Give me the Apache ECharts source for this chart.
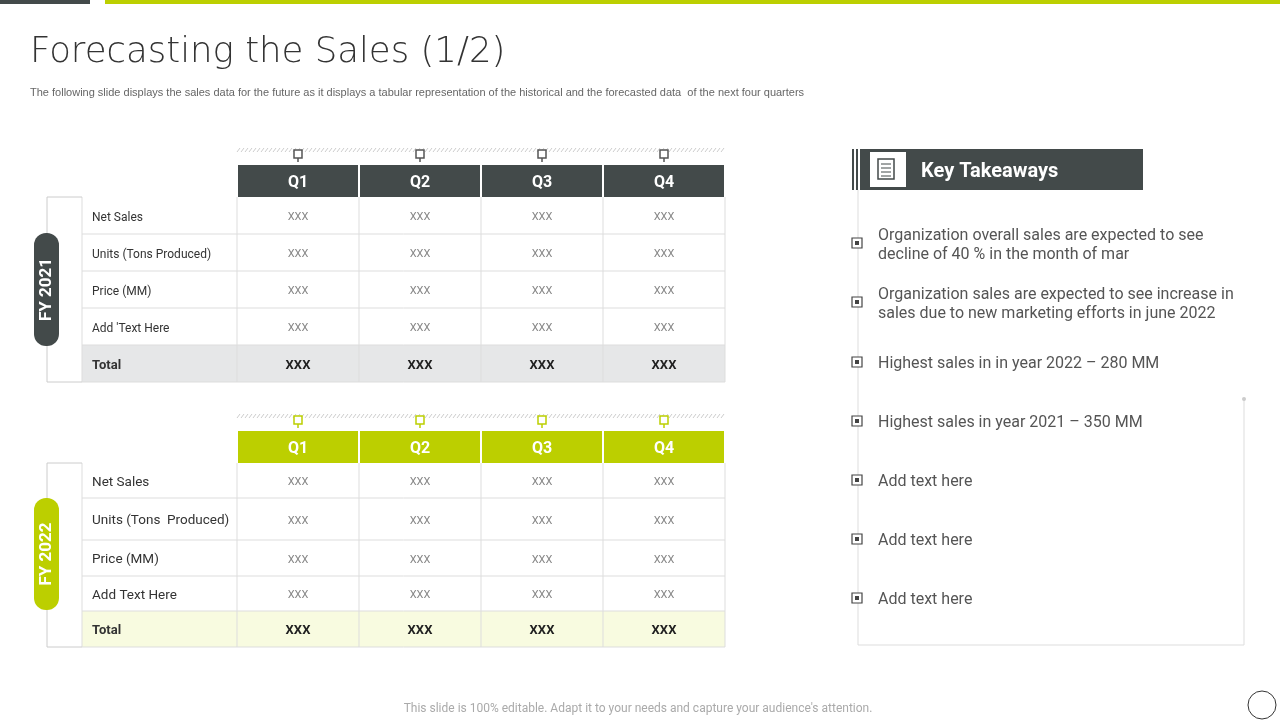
<!DOCTYPE html><html><head><meta charset="utf-8">
<script src="https://cdn.jsdelivr.net/npm/echarts@6/dist/echarts.min.js"></script>
<style>html,body{margin:0;padding:0;background:#fff}#c{width:1280px;height:720px}</style></head><body><div id="c"></div>
<script>
const title = "Forecasting the Sales (1/2)";
const subtitle = "The following slide displays the sales data for the future as it displays a tabular representation of the historical and the forecasted data  of the next four quarters";
const quarters = ["Q1","Q2","Q3","Q4"];
const rows2021 = ["Net Sales","Units (Tons Produced)","Price (MM)","Add 'Text Here","Total"];
const rows2022 = ["Net Sales","Units (Tons  Produced)","Price (MM)","Add Text Here","Total"];
const cellValue = "XXX";
const takeaways = ["Organization overall sales are expected to see\ndecline of 40 % in the month of mar","Organization sales are expected to see increase in\nsales due to new marketing efforts in june 2022","Highest sales in in year 2022 – 280 MM","Highest sales in year 2021 – 350 MM","Add text here","Add text here","Add text here"];
const footer = "This slide is 100% editable. Adapt it to your needs and capture your audience's attention.";

const F = "Roboto, 'Liberation Sans', sans-serif";
const dark = "#434a4a", green = "#bccf00";
const g = [];
const D = 2;
g.push({type:'rect',shape:{x:0,y:0,width:90,height:4},style:{fill:dark}});
g.push({type:'rect',shape:{x:105,y:0,width:1175,height:4},style:{fill:green}});
g.push({type:'text',x:30,y:53,style:{text:title,font:"300 35.5px 'DejaVu Sans', "+F,fill:"#333",textVerticalAlign:'middle'}});
g.push({type:'text',x:30,y:93,style:{text:subtitle,font:"11px 'Liberation Sans', sans-serif",fill:"#666",textVerticalAlign:'middle'}});

const colX = [237,359,481,603,725];
function table(y0, headCol, rowYs, rows, totalBg, pillCol, pillY, label, rowFont, iconCol){
  for(let x=237;x<725;x+=4) g.push({type:'line',shape:{x1:x,y1:y0-13,x2:x+3,y2:y0-17},style:{stroke:'#ccc',lineWidth:1}});
  for(let i=0;i<4;i++){
    const cx=(colX[i]+colX[i+1])/2;
    g.push({type:'rect',shape:{x:cx-4,y:y0-15,width:8,height:8},style:{fill:'#fff',stroke:iconCol,lineWidth:1.5}});
    g.push({type:'line',shape:{x1:cx,y1:y0-7,x2:cx,y2:y0-3},style:{stroke:iconCol,lineWidth:1.5}});
    g.push({type:'rect',shape:{x:colX[i]+1,y:y0,width:colX[i+1]-colX[i]-2,height:rowYs[0]-y0},style:{fill:headCol}});
    g.push({type:'text',x:cx,y:(y0+rowYs[0])/2+D,style:{text:quarters[i],font:"bold 16px "+F,fill:'#fff',textAlign:'center',textVerticalAlign:'middle'}});
  }
  const last = rowYs.length-1;
  g.push({type:'rect',shape:{x:82,y:rowYs[last-1],width:643,height:rowYs[last]-rowYs[last-1]},style:{fill:totalBg}});
  for(let r=0;r<rows.length;r++){
    const ya=rowYs[r], yb=rowYs[r+1], cy=(ya+yb)/2+D, tot=r===rows.length-1;
    g.push({type:'text',x:92,y:cy,style:{text:rows[r],font:(tot?"bold 13px ":rowFont)+F,fill:'#333',textVerticalAlign:'middle'}});
    for(let i=0;i<4;i++) g.push({type:'text',x:(colX[i]+colX[i+1])/2,y:cy,style:{text:cellValue,font:(tot?"bold 13px ":"11px ")+F,fill:tot?'#222':'#888',textAlign:'center',textVerticalAlign:'middle'}});
    g.push({type:'line',shape:{x1:82,y1:yb,x2:725,y2:yb},style:{stroke:'#ddd'}});
  }
  for(const x of [82,...colX]) g.push({type:'line',shape:{x1:x,y1:rowYs[0],x2:x,y2:rowYs[last]},style:{stroke:'#ddd'}});
  g.push({type:'polyline',shape:{points:[[82,rowYs[0]],[47,rowYs[0]],[47,rowYs[last]],[82,rowYs[last]]]},style:{stroke:'#ccc',fill:null}});
  g.push({type:'rect',shape:{x:34,y:pillY[0],width:25,height:pillY[1]-pillY[0],r:12},style:{fill:pillCol}});
  g.push({type:'text',x:46.5,y:(pillY[0]+pillY[1])/2,rotation:Math.PI/2,style:{text:label,font:"bold 17px "+F,fill:'#fff',textAlign:'center',textVerticalAlign:'middle'}});
}
table(165,dark,[197,234,271,308,345,382],rows2021,'#e6e7e8',dark,[233,346],"FY 2021","12px ",'#555');
table(431,green,[463,498,540,576,611,647],rows2022,'#f8fbe0',green,[498,610],"FY 2022","13.5px ",green);

g.push({type:'rect',shape:{x:852,y:149,width:2,height:41},style:{fill:dark}});
g.push({type:'rect',shape:{x:856,y:149,width:2,height:41},style:{fill:dark}});
g.push({type:'rect',shape:{x:860,y:149,width:283,height:41},style:{fill:dark}});
g.push({type:'rect',shape:{x:870,y:152,width:36,height:35},style:{fill:'#fff'}});
g.push({type:'rect',shape:{x:878,y:159,width:16,height:20},style:{fill:null,stroke:dark,lineWidth:1.5}});
for(let k=0;k<4;k++) g.push({type:'line',shape:{x1:881,y1:164+k*4,x2:891,y2:164+k*4},style:{stroke:dark}});
g.push({type:'text',x:921,y:170+D,style:{text:"Key Takeaways",font:"bold 20px "+F,fill:'#fff',textVerticalAlign:'middle'}});
g.push({type:'polyline',shape:{points:[[858,190],[858,645],[1244,645],[1244,398]]},style:{stroke:'#ddd',fill:null}});
g.push({type:'circle',shape:{cx:1244,cy:399,r:2},style:{fill:'#ccc'}});
const ty=[243,302,362,421,480,539,598];
takeaways.forEach((t,i)=>{
  g.push({type:'rect',shape:{x:852,y:ty[i]-5,width:10,height:10},style:{fill:'#fff',stroke:'#444',lineWidth:1.2}});
  g.push({type:'rect',shape:{x:855,y:ty[i]-2,width:4,height:4},style:{fill:'#444'}});
  g.push({type:'text',x:878,y:ty[i]+D,style:{text:t,font:"16px "+F,fill:'#555',textVerticalAlign:'middle',lineHeight:19}});
});
g.push({type:'text',x:638,y:707+D,style:{text:footer,font:"12px "+F,fill:'#aaa',textAlign:'center',textVerticalAlign:'middle'}});
g.push({type:'circle',shape:{cx:1262,cy:705,r:14},style:{fill:'#fff',stroke:'#333'}});

const chart = echarts.init(document.getElementById('c'));
chart.setOption({animation:false,graphic:g});
</script></body></html>
